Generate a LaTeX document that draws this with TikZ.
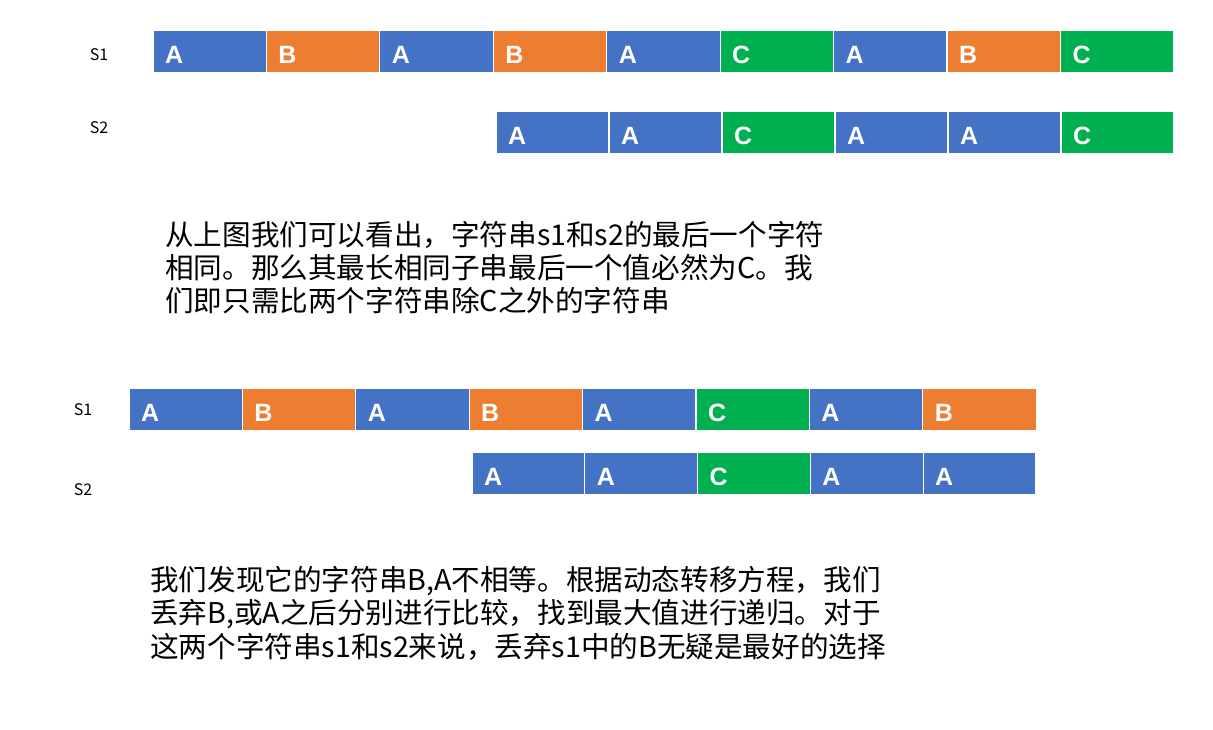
\documentclass[tikz,border=0pt]{standalone}
\usepackage{fontspec}
\setmainfont{Noto Sans CJK SC}
\newfontfamily\letterfont{Liberation Sans}
\definecolor{cblue}{HTML}{4472C4}
\definecolor{corange}{HTML}{ED7D31}
\definecolor{cgreen}{HTML}{00B050}
\begin{document}
\begin{tikzpicture}[x=1pt,y=-1pt,
  cellbox/.style={draw=white, line width=1.2pt, minimum height=43pt, text width=89.4pt,
    inner xsep=12pt, inner ysep=0pt, align=left, text=white, outer sep=0pt,
    text height=23pt, text depth=0pt,
    font=\letterfont\bfseries\fontsize{25}{25}\selectfont, anchor=north west},
  rowlabel/.style={font=\fontsize{16}{16}\selectfont, inner sep=0pt},
  para/.style={font=\fontsize{28.6}{33}\selectfont, inner sep=0pt, anchor=base west}]
\useasboundingbox[fill=white] (0,0) rectangle (1213,729);
% top S1
\foreach \L/\C [count=\i from 0] in {A/cblue,B/corange,A/cblue,B/corange,A/cblue,C/cgreen,A/cblue,B/corange,C/cgreen}
  \node[cellbox, fill=\C, minimum width=113.44pt] (ta\i) at ({153+113.44*\i},30) {\L};
% top S2
\foreach \L/\C [count=\i from 0] in {A/cblue,A/cblue,C/cgreen,A/cblue,A/cblue,C/cgreen}
  \node[cellbox, fill=\C, minimum width=113pt, text width=89pt] (tb\i) at ({496+113*\i},111) {\L};
% bottom S1
\foreach \L/\C [count=\i from 0] in {A/cblue,B/corange,A/cblue,B/corange,A/cblue,C/cgreen,A/cblue,B/corange}
  \node[cellbox, fill=\C, minimum width=113.4pt] (ba\i) at ({129+113.4*\i},388) {\L};
% bottom S2
\foreach \L/\C [count=\i from 0] in {A/cblue,A/cblue,C/cgreen,A/cblue,A/cblue}
  \node[cellbox, fill=\C, minimum width=112.8pt, text width=88.8pt] (bb\i) at ({472+112.8*\i},452) {\L};
% row labels
\node[rowlabel] (ls1) at (99,55) {S1};
\node[rowlabel] (ls2) at (99,128) {S2};
\node[rowlabel] (ms1) at (83,410) {S1};
\node[rowlabel] (ms2) at (83,490) {S2};
% paragraph 1
\node[para] (p1a) at (165,245) {从上图我们可以看出，字符串s1和s2的最后一个字符};
\node[para] (p1b) at (165,278) {相同。那么其最长相同子串最后一个值必然为C。我};
\node[para] (p1c) at (165,311) {们即只需比两个字符串除C之外的字符串};
% paragraph 2
\node[para] (p2a) at (150,590) {我们发现它的字符串B,A不相等。根据动态转移方程，我们};
\node[para] (p2b) at (150,623) {丢弃B,或A之后分别进行比较，找到最大值进行递归。对于};
\node[para] (p2c) at (150,657) {这两个字符串s1和s2来说，丢弃s1中的B无疑是最好的选择};
\end{tikzpicture}
\end{document}
